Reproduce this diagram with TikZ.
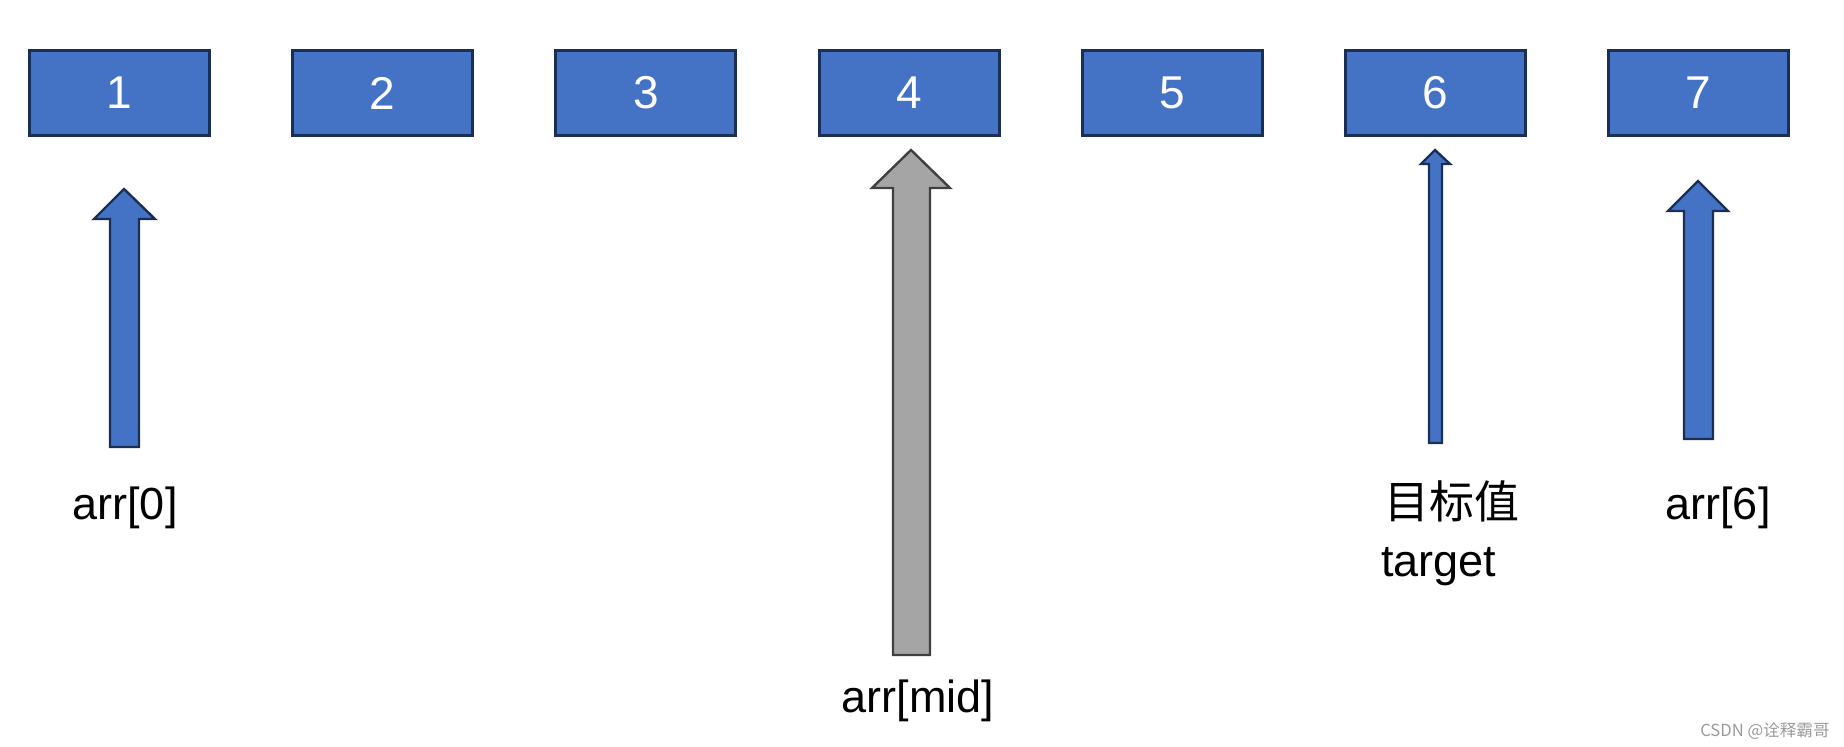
\documentclass[tikz,border=0pt]{standalone}
\usepackage{fontspec}
\setmainfont{Liberation Sans}
\newfontfamily\cjkfont{Noto Sans CJK SC}
\definecolor{boxfill}{HTML}{4472C4}
\definecolor{boxline}{HTML}{1A2F55}
\definecolor{grayfill}{HTML}{A5A5A5}
\definecolor{grayline}{HTML}{404040}
\definecolor{wmark}{HTML}{9A9A9A}
\begin{document}
\begin{tikzpicture}[x=0.5pt,y=-0.5pt,
  cell/.style={draw=boxline,fill=boxfill,line width=1.5pt,minimum width=90pt,minimum height=42.5pt,inner sep=0pt,text=white,font=\fontsize{23}{23}\selectfont},
  bluearrow/.style={draw=boxline,fill=boxfill,line width=1.2pt,line join=miter},
  grayarrow/.style={draw=grayline,fill=grayfill,line width=1.2pt,line join=miter},
  lbl/.style={inner sep=0pt,font=\fontsize{22.5}{22.5}\selectfont},
]
\useasboundingbox (0,0) rectangle (1844,747);
% boxes
\foreach \i in {1,...,7}{
  \node[cell] (c\i) at ({119.5+263.17*(\i-1)},93) {\i};
}
% arrows
\draw[bluearrow] (110,447) -- (110,219) -- (94,219) -- (124,189) -- (155,219) -- (139,219) -- (139,447) -- cycle;
\draw[grayarrow] (893,655) -- (893,188) -- (872,188) -- (911,150) -- (950,188) -- (930,188) -- (930,655) -- cycle;
\draw[bluearrow] (1429,443) -- (1429,164) -- (1421,164) -- (1435,150) -- (1450,164) -- (1442,164) -- (1442,443) -- cycle;
\draw[bluearrow] (1684,439) -- (1684,211) -- (1668,211) -- (1698,181) -- (1728,211) -- (1713,211) -- (1713,439) -- cycle;
% labels
\node[lbl] (l0) at (125,508) {arr[0]};
\node[lbl] (lmid) at (918,701) {arr[mid]};
\node[lbl,font=\cjkfont\fontsize{22.5}{22.5}\selectfont] (lt1) at (1452,501) {目标值};
\node[lbl,anchor=base west] (lt2) at (1381,577) {target};
\node[lbl] (l6) at (1718,508) {arr[6]};
\node[inner sep=0pt,anchor=east,text=wmark,font=\cjkfont\fontsize{8.3}{8.3}\selectfont] (wm) at (1830,731) {CSDN @诠释霸哥};
\end{tikzpicture}
\end{document}
